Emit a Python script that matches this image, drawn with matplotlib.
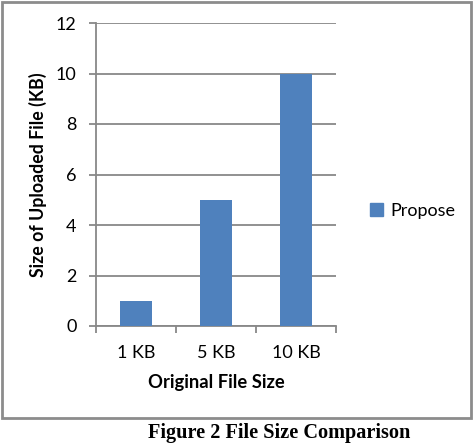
import matplotlib
matplotlib.use("Agg")
import matplotlib.pyplot as plt
from matplotlib.patches import Rectangle, Patch

categories = ["1 KB", "5 KB", "10 KB"]
propose = [1, 5, 10]
series_name = "Propose"
yticks = [0, 2, 4, 6, 8, 10, 12]

W, H = 474, 443
fig = plt.figure(figsize=(W / 100, H / 100), dpi=100)
fig.patch.set_facecolor("white")

font = "Lato"
grid_c = "#888888"
bar_c = "#4F81BD"

# outer chart frame
fig.patches.append(Rectangle((2 / W, 1 - 418 / H), 469 / W, 416 / H,
                             transform=fig.transFigure, fill=False,
                             edgecolor="#8c8c8c", lw=2, zorder=0))

ax = fig.add_axes([96 / W, 1 - 326 / H, 240 / W, 303 / H])
x = list(range(len(categories)))
ax.bar(x, propose, width=0.41, color=bar_c, zorder=3)
ax.set_xlim(-0.5, len(categories) - 0.5)
ax.set_ylim(0, 12)
ax.set_yticks(yticks)
ax.set_yticklabels([str(v) for v in yticks], fontfamily=font, fontsize=13)
ax.grid(axis="y", color=grid_c, lw=1.3, zorder=0)
ax.tick_params(axis="y", length=5, width=1.3, color=grid_c, pad=9)

ax.set_xticks(x)
ax.set_xticklabels(categories, fontfamily=font, fontsize=13)
ax.set_xticks([i - 0.5 for i in range(len(categories) + 1)], minor=True)
ax.tick_params(axis="x", which="major", length=0, pad=14)
ax.tick_params(axis="x", which="minor", length=5, width=1.3, color=grid_c, direction="out")

for s in ["top", "right"]:
    ax.spines[s].set_visible(False)
for s in ["left", "bottom"]:
    ax.spines[s].set_color(grid_c)
    ax.spines[s].set_linewidth(1.3)

ax.set_ylabel("Size of Uploaded File (KB)", fontfamily=font, fontweight="bold",
              fontsize=12.8, labelpad=6)
ax.set_xlabel("Original File Size", fontfamily=font, fontweight="bold",
              fontsize=13.2, labelpad=9)

fig.legend(handles=[Patch(color=bar_c, label=series_name)],
           loc="center left", bbox_to_anchor=(354 / W, 1 - 211 / H),
           frameon=False, prop={"family": font, "size": 13},
           handlelength=0.7, handleheight=0.7, handletextpad=0.4)

fig.text(279 / W, 1 - 433 / H, "Figure 2 File Size Comparison",
         ha="center", va="center", fontfamily="Liberation Serif",
         fontweight="bold", fontsize=14.6)

fig.savefig("out.png", dpi=100)
